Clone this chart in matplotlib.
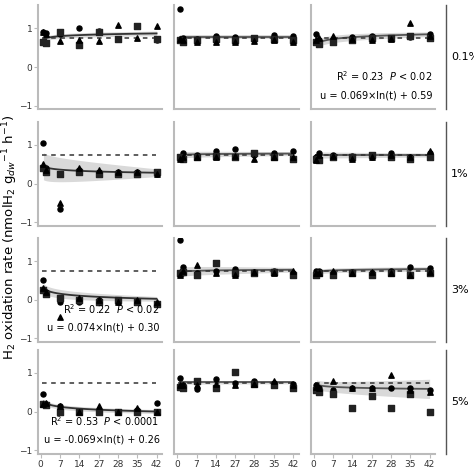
import numpy as np
import matplotlib.pyplot as plt

days = [1, 2, 7, 14, 21, 28, 35, 42]
tick_pos = [0, 7, 14, 21, 28, 35, 42]
tick_labels = ['0', '7', '14', '27', '28', '35', '42']
row_labels = ['0.1%', '1%', '3%', '5%']

# dashed reference level per panel (row, col)
ref_level = [[0.75, 0.75, 0.75],
             [0.75, 0.75, 0.75],
             [0.75, 0.75, 0.75],
             [0.75, 0.75, 0.75]]
# fitted curve u = a*ln(t) + b, band half-width at start / end
fit_a = [[0.040, 0.000, 0.069],
         [-0.045, 0.010, 0.000],
         [-0.074, 0.015, 0.020],
         [-0.069, 0.000, -0.030]]
fit_b = [[0.72, 0.78, 0.59],
         [0.45, 0.74, 0.74],
         [0.30, 0.72, 0.72],
         [0.26, 0.76, 0.70]]
band0 = [[0.06, 0.06, 0.10],
         [0.35, 0.08, 0.08],
         [0.12, 0.12, 0.06],
         [0.06, 0.05, 0.12]]
band1 = [[0.06, 0.06, 0.06],
         [0.10, 0.05, 0.05],
         [0.06, 0.06, 0.06],
         [0.05, 0.04, 0.25]]

circles = [
    [[0.90, 0.88, 0.85, 1.00, 0.92, 0.72, 1.05, 0.70],
     [1.50, 0.75, 0.72, 0.80, 0.78, 0.75, 0.82, 0.80],
     [0.85, 0.70, 0.72, 0.78, 0.80, 0.75, 0.78, 0.85]],
    [[1.05, 0.40, -0.65, 0.35, 0.30, 0.30, 0.30, 0.25],
     [0.70, 0.80, 0.75, 0.85, 0.90, 0.75, 0.80, 0.85],
     [0.70, 0.80, 0.75, 0.72, 0.70, 0.80, 0.70, 0.80]],
    [[0.50, 0.20, -0.05, -0.05, 0.00, -0.05, -0.05, -0.10],
     [1.55, 0.85, 0.70, 0.75, 0.80, 0.72, 0.75, 0.70],
     [0.75, 0.75, 0.70, 0.72, 0.70, 0.75, 0.85, 0.82]],
    [[0.45, 0.20, 0.15, 0.00, 0.00, 0.00, 0.05, 0.22],
     [0.88, 0.70, 0.58, 0.85, 0.75, 0.80, 0.75, 0.72],
     [0.70, 0.62, 0.55, 0.60, 0.62, 0.62, 0.60, 0.55]],
]
squares = [
    [[0.65, 0.62, 0.90, 0.58, 0.90, 0.72, 1.05, 0.72],
     [0.70, 0.65, 0.70, 0.72, 0.70, 0.75, 0.72, 0.70],
     [0.65, 0.60, 0.65, 0.70, 0.75, 0.75, 0.80, 0.75]],
    [[0.40, 0.30, 0.25, 0.30, 0.25, 0.25, 0.25, 0.30],
     [0.70, 0.65, 0.70, 0.72, 0.70, 0.80, 0.70, 0.65],
     [0.65, 0.62, 0.70, 0.70, 0.75, 0.70, 0.65, 0.70]],
    [[0.25, 0.15, 0.05, 0.00, -0.05, 0.00, -0.05, -0.10],
     [0.70, 0.72, 0.65, 0.95, 0.70, 0.70, 0.72, 0.65],
     [0.65, 0.70, 0.65, 0.70, 0.65, 0.70, 0.65, 0.70]],
    [[0.20, 0.18, 0.00, 0.00, 0.00, 0.00, 0.00, 0.00],
     [0.65, 0.62, 0.78, 0.62, 1.02, 0.72, 0.70, 0.62],
     [0.55, 0.50, 0.45, 0.10, 0.40, 0.10, 0.45, 0.00]],
]
triangles = [
    [[0.90, 0.85, 0.68, 0.70, 0.68, 1.10, 0.75, 1.05],
     [0.72, 0.70, 0.65, 0.65, 0.65, 0.68, 0.70, 0.65],
     [0.70, 0.75, 0.80, 0.72, 0.70, 0.72, 1.15, 0.80]],
    [[0.50, 0.35, -0.50, 0.40, 0.35, 0.30, 0.30, 0.25],
     [0.65, 0.70, 0.68, 0.70, 0.72, 0.65, 0.70, 0.68],
     [0.60, 0.75, 0.72, 0.65, 0.70, 0.75, 0.70, 0.85]],
    [[0.30, 0.20, -0.45, 0.05, 0.00, -0.05, 0.00, -0.05],
     [0.65, 0.75, 0.90, 0.68, 0.65, 0.72, 0.70, 0.75],
     [0.70, 0.68, 0.75, 0.70, 0.72, 0.70, 0.65, 0.72]],
    [[0.20, 0.22, 0.15, 0.00, 0.15, 0.00, 0.10, 0.00],
     [0.70, 0.68, 0.70, 0.72, 0.70, 0.72, 0.80, 0.70],
     [0.65, 0.60, 0.80, 0.60, 0.60, 0.95, 0.55, 0.50]],
]

annotations = {(0, 2): ('0.02', '0.069', '0.59', '0.23'),
               (2, 0): ('0.02', '0.074', '0.30', '0.22'),
               (3, 0): ('0.0001', '-0.069', '0.26', '0.53')}

fig = plt.figure(figsize=(4.74, 4.74), dpi=100)
lefts = [0.080, 0.368, 0.656]
bottoms = [0.757, 0.511, 0.266, 0.030]
w, h = 0.262, 0.232

for r in range(4):
    for c in range(3):
        ax = fig.add_axes([lefts[c], bottoms[r] + 0.012, w, h - 0.012])
        t = np.linspace(1, 42, 100)
        u = fit_a[r][c] * np.log(t) + fit_b[r][c]
        bw = np.linspace(band0[r][c], band1[r][c], 100)
        ax.fill_between(t, u - bw, u + bw, color='#d9d9d9', lw=0, zorder=1)
        ax.plot(t, u, color='#333333' if c == 0 else '#555555', lw=1.3, zorder=2)
        ax.axhline(ref_level[r][c], xmin=0.03, xmax=0.95, color='#333333',
                   ls=(0, (3, 3)), lw=1.1, zorder=2)
        ax.scatter(days, circles[r][c], marker='o', s=13, color='black', zorder=3)
        ax.scatter(days, squares[r][c], marker='s', s=13, color='#222222', zorder=3)
        ax.scatter(days, triangles[r][c], marker='^', s=15, color='black', zorder=3)
        ax.set_xlim(-1, 44)
        ax.set_ylim(-1.1, 1.6)
        ax.set_yticks([-1, 0, 1])
        ax.set_xticks(tick_pos)
        for s in ['top', 'right']:
            ax.spines[s].set_visible(False)
        for s in ['left', 'bottom']:
            ax.spines[s].set_color('#bbbbbb')
            ax.spines[s].set_linewidth(1.5)
        ax.tick_params(colors='#bbbbbb', labelcolor='#333333', labelsize=6.5,
                       length=3, pad=1)
        if r == 3:
            ax.set_xticklabels(tick_labels)
        else:
            ax.set_xticklabels([])
            ax.tick_params(axis='x', length=0)
        if c != 0:
            ax.set_yticklabels([])
            ax.tick_params(axis='y', length=0)
        if (r, c) in annotations:
            p, a, b, r2 = annotations[(r, c)]
            ax.text(0.98, 0.27, r'R$^2$ = ' + r2 + r'  $P$ < ' + p,
                    transform=ax.transAxes, ha='right', fontsize=7)
            ax.text(0.98, 0.11, 'u = ' + a + '×ln(t) + ' + b,
                    transform=ax.transAxes, ha='right', fontsize=7)

# row brackets on the right
for r in range(4):
    y0 = bottoms[r] + 0.012
    y1 = y0 + h - 0.012
    fig.add_artist(plt.Line2D([0.94, 0.94], [y0, y1], color='#555555', lw=1))
    fig.text(0.952, (y0 + y1) / 2, row_labels[r], va='center', fontsize=8)

fig.text(0.022, 0.5, r'H$_2$ oxidation rate (nmolH$_2$ g$_{dw}$$^{-1}$ h$^{-1}$)',
         rotation=90, va='center', ha='center', fontsize=9.5)

fig.savefig('out.png', dpi=100)
